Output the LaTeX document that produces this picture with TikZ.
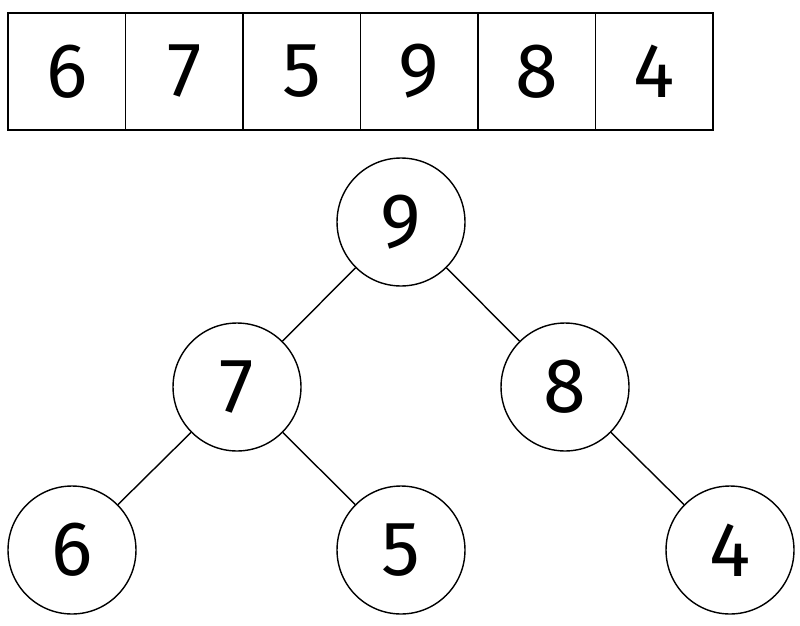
\documentclass[tikz,border=0pt]{standalone}
\usepackage{fontspec}
\setsansfont{Fira Sans}
\tikzset{
    cellbox/.style={draw, thick, minimum width=2.35cm, minimum height=2.34cm, inner sep=0pt,
        font=\sffamily\fontsize{44}{44}\selectfont},
    heapnode/.style={draw, thick, circle, minimum size=2.56cm, inner sep=0pt,
        font=\sffamily\fontsize{44}{44}\selectfont}
}
\begin{document}
\begin{tikzpicture}[x=0.02cm, y=-0.02cm]
\useasboundingbox (0,0) rectangle (800,625);
% array
\foreach \v [count=\i] in {6,7,5,9,8,4}{
    \node[cellbox] (cell\i) at ({8+117.5*(\i-0.5)},71.5) {\v};
}
% heap
\node[heapnode] (root) at (401,222) {9};
\node[heapnode] (left) at (237,387) {7};
\node[heapnode] (right) at (565,387) {8};
\node[heapnode] (leftleft) at (72,550) {6};
\node[heapnode] (leftright) at (401,550) {5};
\node[heapnode] (rightright) at (730,550) {4};
\draw[thick] (root) -- (left);
\draw[thick] (root) -- (right);
\draw[thick] (left) -- (leftleft);
\draw[thick] (left) -- (leftright);
\draw[thick] (right) -- (rightright);
\end{tikzpicture}
\end{document}
